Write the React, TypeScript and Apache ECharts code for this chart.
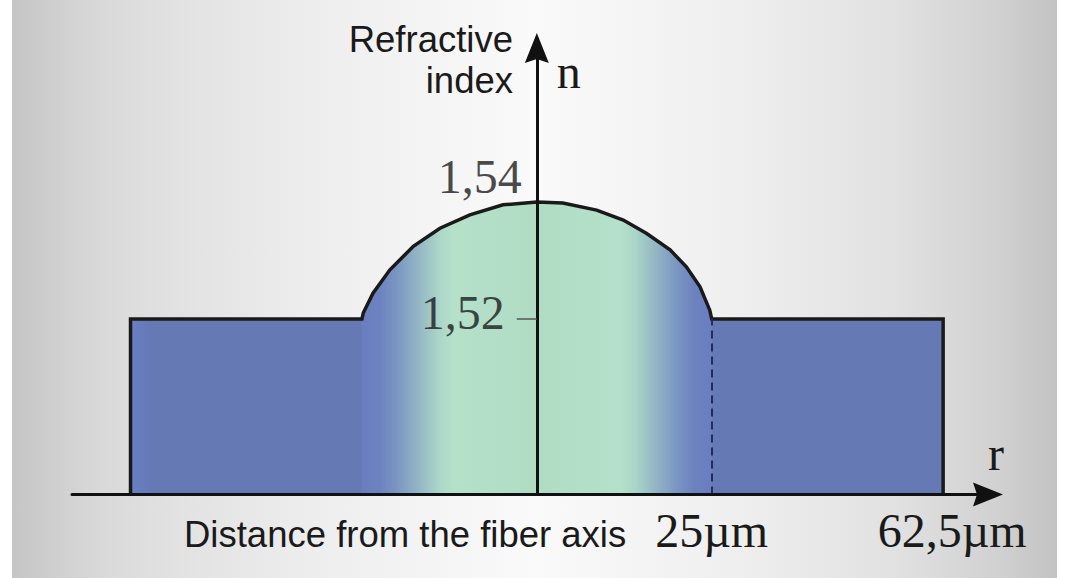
import React, { useEffect, useRef } from "react";
import * as echarts from "echarts";

// ---- data ----
const N_BASE = 1.49; // axis baseline
const N_CLAD = 1.52; // cladding index
const CLAD_R = 62.5; // cladding radius (drawn)
const CORE_R = 26.9; // core radius as drawn
// graded-index core outline (r in µm, n)
const domeR = [-26.9, -26.7, -25.2, -22.6, -19.0, -14.9, -10.3, -5.2, 0, 4.0, 9.2, 13.3, 16.9, 20.5, 23.0, 25.1, 26.6, 26.9];
const domeN = [1.52, 1.521, 1.5244, 1.5284, 1.5324, 1.5355, 1.5378, 1.5395, 1.54, 1.5398, 1.5386, 1.5369, 1.5346, 1.5318, 1.5289, 1.5255, 1.5215, 1.52];
const xTickValues = [26.9, 62.5];
const xTickLabels = ["25µm", "62,5µm"];
const yTickValues = [1.52, 1.54];
const yTickLabels = ["1,52", "1,54"];
const X_NAME = "r";
const Y_NAME = "n";
const Y_TITLE = "Refractive\nindex";
const X_TITLE = "Distance from the fiber axis";

const SERIF = "'Liberation Serif', 'Times New Roman', serif";
const SANS = "'Liberation Sans', Arial, sans-serif";
const ARROW = "path://M12,0 L24,30 L12,26 L0,30 Z";

function buildOption() {
  const profile: number[][] = [[-CLAD_R, N_BASE], [-CLAD_R, N_CLAD]];
  domeR.forEach((r, i) => profile.push([r, domeN[i]]));
  profile.push([CLAD_R, N_CLAD], [CLAD_R, N_BASE]);

  const frac = (x: number) => (x + CLAD_R) / (2 * CLAD_R);
  const cladColor = "#6579b5";
  const shades = [
    { u: 1, c: "#6a7ec0" },
    { u: 0.9, c: "#6c82c0" },
    { u: 0.8, c: "#7a96c2" },
    { u: 0.68, c: "#93b5c4" },
    { u: 0.56, c: "#abd5c8" },
    { u: 0.48, c: "#b5e1cb" },
  ];
  const center = "#b0dcc4";
  const stops: { offset: number; color: string }[] = [
    { offset: 0, color: "#6a80c6" },
    { offset: 0.025, color: cladColor },
    { offset: frac(-CORE_R) - 0.001, color: cladColor },
  ];
  shades.forEach((s) => stops.push({ offset: frac(-s.u * CORE_R), color: s.c }));
  stops.push({ offset: frac(0), color: center });
  [...shades].reverse().forEach((s) => stops.push({ offset: frac(s.u * CORE_R), color: s.c }));
  stops.push({ offset: frac(CORE_R) + 0.001, color: cladColor }, { offset: 1, color: cladColor });

  const bg = new echarts.graphic.LinearGradient(0, 0, 1, 0, [
    { offset: 0, color: "#ffffff" },
    { offset: 0.011, color: "#ffffff" },
    { offset: 0.0113, color: "#c5c5c5" },
    { offset: 0.056, color: "#d0d0d0" },
    { offset: 0.094, color: "#d9d9d9" },
    { offset: 0.14, color: "#dfdfdf" },
    { offset: 0.19, color: "#e4e4e4" },
    { offset: 0.3, color: "#eeeeee" },
    { offset: 0.5, color: "#fafafa" },
    { offset: 0.7, color: "#eeeeee" },
    { offset: 0.84, color: "#e1e1e1" },
    { offset: 0.935, color: "#d1d1d1" },
    { offset: 0.9895, color: "#c3c3c3" },
    { offset: 0.99, color: "#ffffff" },
    { offset: 1, color: "#ffffff" },
  ]);

  return {
    animation: false,
    graphic: [
      { type: "rect", z: -10, silent: true, shape: { x: 0, y: 0, width: 1068, height: 578 }, style: { fill: bg } },
      {
        type: "text", z: 100, x: 513, y: 19,
        style: { text: Y_TITLE, font: `36.5px ${SANS}`, fill: "#1a1a1a", align: "right", verticalAlign: "top", lineHeight: 41 },
      },
      {
        type: "text", z: 100, x: 184, y: 534,
        style: { text: X_TITLE, font: `36.5px ${SANS}`, fill: "#1a1a1a", align: "left", verticalAlign: "middle" },
      },
    ],
    grid: { left: 72, right: 80, top: 48, bottom: 83.5 },
    xAxis: {
      type: "value",
      min: -71.5,
      max: 69.4,
      z: 10,
      name: X_NAME,
      nameLocation: "end",
      nameGap: 0,
      nameTextStyle: { fontFamily: SERIF, fontSize: 48, color: "#1a1a1a", align: "left", verticalAlign: "bottom", lineHeight: 48, padding: [0, 0, 17, 0] },
      axisLine: { symbol: ["none", ARROW], symbolSize: [24, 30], lineStyle: { color: "#111", width: 3 } },
      axisTick: { show: false },
      splitLine: { show: false },
      axisLabel: {
        customValues: xTickValues,
        margin: 12,
        fontFamily: SERIF,
        fontSize: 48,
        lineHeight: 48,
        color: "#1a1a1a",
        formatter: (v: number) => {
          const i = xTickValues.indexOf(v);
          const t = i >= 0 ? xTickLabels[i] : "";
          return i === xTickValues.length - 1 ? `{far|${t}}` : `{near|${t}}`;
        },
        rich: {
          near: { fontFamily: SERIF, fontSize: 48, lineHeight: 48, color: "#1a1a1a" },
          far: { fontFamily: SERIF, fontSize: 48, lineHeight: 48, color: "#1a1a1a", padding: [0, 0, 0, 18] },
        },
      },
    },
    yAxis: {
      type: "value",
      min: N_BASE,
      max: 1.5663,
      z: 10,
      name: Y_NAME,
      nameLocation: "end",
      nameGap: -47,
      nameTextStyle: { fontFamily: SERIF, fontSize: 48, color: "#1a1a1a", align: "left", verticalAlign: "bottom", lineHeight: 48, padding: [0, 0, 0, 20] },
      axisLine: { onZero: true, symbol: ["none", ARROW], symbolSize: [24, 30], lineStyle: { color: "#111", width: 3 } },
      axisTick: { show: true, customValues: [yTickValues[0]], length: 20, lineStyle: { color: "#555", width: 1.5 } },
      axisLabel: { show: false },
      splitLine: { show: false },
    },
    series: [
      {
        type: "line",
        data: profile,
        symbol: "none",
        z: 2,
        lineStyle: { color: "#1a1a1a", width: 3.5, join: "miter" },
        areaStyle: { opacity: 1, origin: "start", color: new echarts.graphic.LinearGradient(0, 0, 1, 0, stops) },
        markLine: {
          silent: true,
          symbol: "none",
          label: { show: false },
          lineStyle: { type: [8, 5], color: "#1f2d5c", width: 2 },
          data: [[{ coord: [CORE_R, N_BASE] }, { coord: [CORE_R, N_CLAD] }]],
        },
      },
      {
        type: "scatter",
        symbolSize: 0,
        silent: true,
        z: 5,
        data: yTickValues.map((v, i) => ({
          value: [0, v],
          label: {
            show: true,
            position: "left",
            formatter: yTickLabels[i],
            distance: i === 0 ? 32 : 15,
            offset: [0, i === 0 ? -6.5 : -25.5],
            fontFamily: SERIF,
            fontSize: 48,
            lineHeight: 48,
            color: "#1a1a1a",
          },
        })),
      },
    ],
  };
}

export default function App() {
  const ref = useRef<HTMLDivElement>(null);
  useEffect(() => {
    document.body.style.margin = "0";
    const chart = echarts.init(ref.current!, null, { renderer: "svg" });
    chart.setOption(buildOption() as any);
    return () => chart.dispose();
  }, []);
  return <div ref={ref} style={{ width: 1068, height: 578 }} />;
}
